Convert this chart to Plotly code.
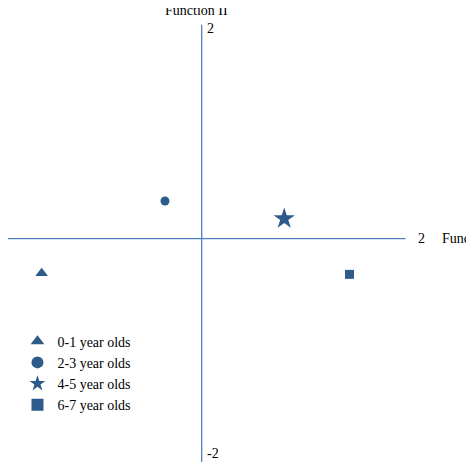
import plotly.graph_objects as go

groups = ['0-1 year olds', '2-3 year olds', '4-5 year olds', '6-7 year olds']
func1 = [-1.57, -0.36, 0.81, 1.45]
func2 = [-0.33, 0.36, 0.19, -0.34]
symbols = ['triangle-up', 'circle', 'star', 'square']
sizes = [11, 9, 16, 9]

dark = '#2E5C8A'
line = '#4F81BD'

fig = go.Figure()
for g, x, y, s, sz in zip(groups, func1, func2, symbols, sizes):
    fig.add_trace(go.Scatter(x=[x], y=[y], mode='markers', name=g,
                             marker=dict(symbol=s, size=sz, color=dark,
                                         line=dict(width=0))))

# axes cross at the origin
fig.add_shape(type='line', x0=-2.0, x1=2.0, y0=0, y1=0, line=dict(color=line, width=1.3))
fig.add_shape(type='line', x0=0, x1=0, y0=-2.13, y1=2.04, line=dict(color=line, width=1.3))

txt = dict(family='Liberation Serif', size=14, color='black')
fig.add_annotation(x=0, y=2.05, text='Function II', showarrow=False, xanchor='center', yanchor='bottom', xshift=-5, yshift=4, font=txt)
fig.add_annotation(x=0.03, y=2.0, text='2', showarrow=False, xanchor='left', font=txt)
fig.add_annotation(x=0.03, y=-2.05, text='-2', showarrow=False, xanchor='left', font=txt)
fig.add_annotation(x=2.1, y=0, text='2', showarrow=False, xanchor='left', font=txt)
fig.add_annotation(x=2.34, y=0, text='Function I', showarrow=False, xanchor='left', font=txt)

fig.update_xaxes(range=[-1.90, 2.75], visible=False)
fig.update_yaxes(range=[-2.32, 2.20], visible=False)
fig.update_layout(width=474, height=474, margin=dict(l=0, r=0, t=0, b=0),
                  plot_bgcolor='white', paper_bgcolor='white',
                  font=dict(family='Liberation Serif', size=14, color='black'),
                  legend=dict(x=0.02, y=0.33, xanchor='left', yanchor='top',
                              bgcolor='rgba(0,0,0,0)', tracegroupgap=0, itemsizing='constant'))
fig.write_html('out.html')
